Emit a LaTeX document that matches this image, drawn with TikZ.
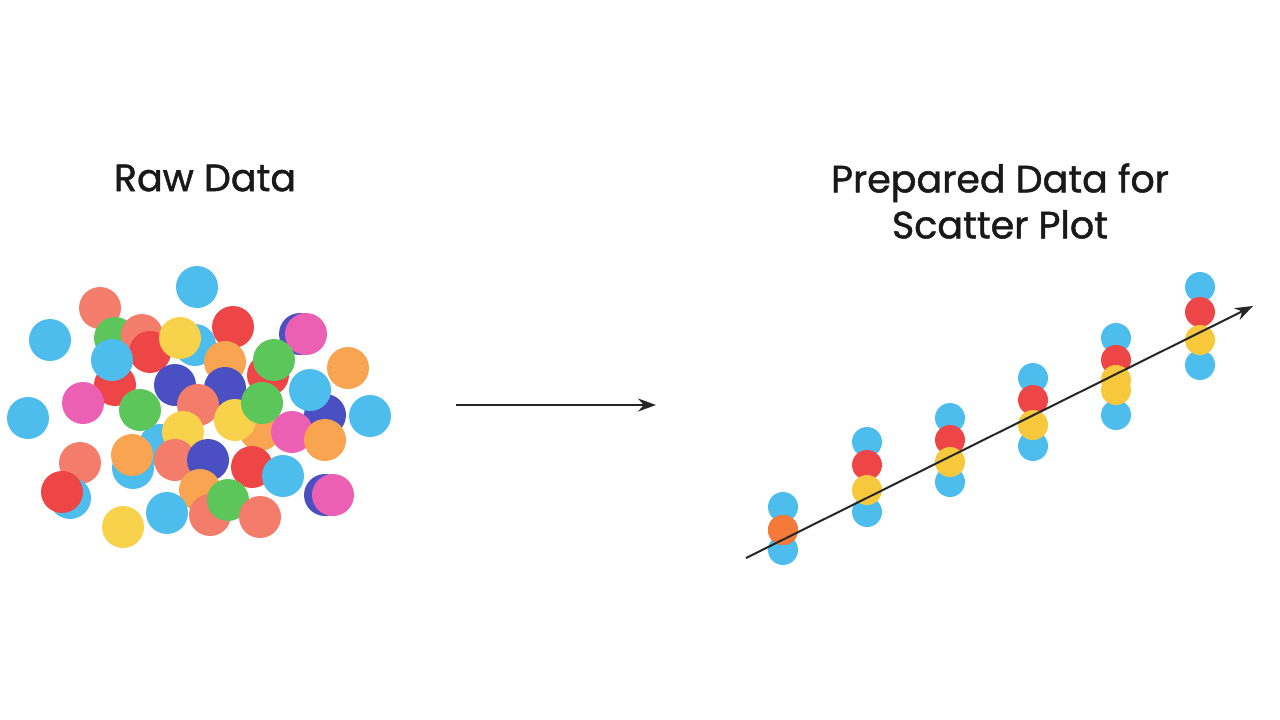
\documentclass[tikz,border=0pt]{standalone}
\usepackage{fontspec}
\setmainfont{Poppins}
\newfontfamily\titlefont[FakeBold=1.2]{Poppins}
\usetikzlibrary{arrows.meta}
\definecolor{kb}{HTML}{4DBDEE}
\definecolor{ks}{HTML}{F47C6A}
\definecolor{kr}{HTML}{EE4646}
\definecolor{ko}{HTML}{F9A450}
\definecolor{ky}{HTML}{F8D24A}
\definecolor{kg}{HTML}{5DC65A}
\definecolor{kn}{HTML}{4A50C2}
\definecolor{km}{HTML}{EC60B4}
\definecolor{kry}{HTML}{F8C83C}
\definecolor{kro}{HTML}{F47A3A}
\tikzset{title/.style={font=\titlefont\fontsize{38}{46}\selectfont, align=center, inner sep=0pt, text=black!90},
arr/.style={-{Stealth[length=18pt,width=13pt]}, line width=2.2pt, black!85}}
\begin{document}
\begin{tikzpicture}[x=1pt,y=-1pt]
\useasboundingbox (0,0) rectangle (1280,720);
\node[title] (t1) at (205,178) {Raw Data};
\node[title] (t2) at (1000,201) {Prepared Data for\\Scatter Plot};
% raw data circles
\foreach \c/\x/\y in {kb/197/287, ks/100/308, kb/50/340, kr/233/327, kn/300/334, km/306/334,
 kg/115/338, ks/142/335, kr/150/352, kb/195/345, ky/180/338, ko/348/368, kr/115/385, kb/112/360,
 kr/268/375, ko/225/362, kg/274/360, kn/175/385, kn/225/388, kn/325/415, kb/310/390, kb/28/418,
 km/83/403, kb/160/445, kg/140/410, ks/198/405, ko/260/430, ky/235/420, kg/262/403, kb/370/416,
 km/292/432, ko/325/440, ky/183/432, kb/133/468, ko/132/455, ks/80/463, ks/175/460, kn/208/460,
 kr/252/467, kb/283/476, kb/70/498, kr/62/492, kn/325/495, km/333/495, ko/200/490, kb/167/513,
 ks/210/515, kg/228/500, ks/260/517, ky/123/527}
  \fill[fill=\c] (\x,\y) circle (21);
% prepared columns
\foreach \x/\a/\b/\cc/\d/\cl in {783/507/530/530/550/kro, 867/442/465/490/512/kry, 950/418/440/462/482/kry,
 1033/378/400/425/446/kry, 1116/338/360/390/415/kry, 1200/287/312/340/365/kry}{
  \fill[fill=kb] (\x,\a) circle (15);
  \fill[fill=kb] (\x,\d) circle (15);
  \fill[fill=kr] (\x,\b) circle (15);
  \fill[fill=\cl] (\x,\cc) circle (15);
}
\fill[fill=kry] (1116,380) circle (15);
\coordinate (a1) at (456,405);
\coordinate (a2) at (656,405);
\draw[arr] (a1) -- (a2);
\coordinate (b1) at (746,558);
\coordinate (b2) at (1253,306);
\draw[arr, line width=2pt] (b1) -- (b2);
\end{tikzpicture}
\end{document}
